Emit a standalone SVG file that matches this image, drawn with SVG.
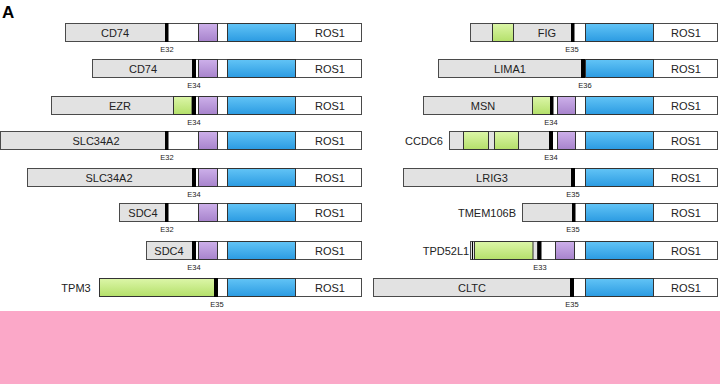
<svg xmlns="http://www.w3.org/2000/svg" width="720" height="384" viewBox="0 0 720 384">
<defs>
<linearGradient id="gb" x1="0" y1="0" x2="0" y2="1"><stop offset="0" stop-color="#62c4f6"/><stop offset="1" stop-color="#2b9be2"/></linearGradient>
<linearGradient id="gg" x1="0" y1="0" x2="0" y2="1"><stop offset="0" stop-color="#dcf6a8"/><stop offset="1" stop-color="#b4e06a"/></linearGradient>
<linearGradient id="gp" x1="0" y1="0" x2="0" y2="1"><stop offset="0" stop-color="#cdb0ea"/><stop offset="1" stop-color="#a783cc"/></linearGradient>
</defs>
<style>
.bar{fill:#ffffff;stroke:#4a4a4a;stroke-width:1}
.gr{fill:#e2e2e2;stroke:#4a4a4a;stroke-width:1}
.bl{fill:url(#gb);stroke:#333;stroke-width:1}
.gn{fill:url(#gg);stroke:#333;stroke-width:1}
.pu{fill:url(#gp);stroke:#333;stroke-width:1}
.bk{fill:#000}
text{font-family:"Liberation Sans",Arial,sans-serif;fill:#222}
.t{font-size:11px;text-anchor:middle}
.e{font-size:7.5px;text-anchor:middle}
</style>
<rect x="0" y="0" width="720" height="384" fill="#ffffff"/>
<rect x="0" y="311" width="720" height="73" fill="#fba8c8"/>
<text x="2" y="18" style="font-size:17px;font-weight:bold;fill:#000">A</text>

<g id="r1-CD74-E32">
<rect class="bar" x="65.5" y="23.5" width="296" height="18"/>
<rect class="gr" x="65.5" y="23.5" width="100" height="18"/>
<rect class="pu" x="198.5" y="23.5" width="19" height="18"/>
<rect class="bl" x="227.5" y="23.5" width="68" height="18"/>
<rect class="bk" x="165" y="23" width="3.5" height="19"/>
<text class="t" x="115" y="36.5">CD74</text>
<text class="t" x="330" y="36.5">ROS1</text>
<text class="e" x="167" y="52">E32</text>
</g>

<g id="r2-CD74-E34">
<rect class="bar" x="92.5" y="59.5" width="269" height="18"/>
<rect class="gr" x="92.5" y="59.5" width="100" height="18"/>
<rect class="pu" x="198.5" y="59.5" width="19" height="18"/>
<rect class="bl" x="227.5" y="59.5" width="68" height="18"/>
<rect class="bk" x="192" y="59" width="4" height="19"/>
<text class="t" x="143" y="72.5">CD74</text>
<text class="t" x="330" y="72.5">ROS1</text>
<text class="e" x="194" y="88">E34</text>
</g>

<g id="r3-EZR-E34">
<rect class="bar" x="51.5" y="96.5" width="310" height="18"/>
<rect class="gr" x="51.5" y="96.5" width="141" height="18"/>
<rect class="gn" x="173.5" y="96.5" width="18.5" height="18"/>
<rect class="pu" x="198.5" y="96.5" width="19" height="18"/>
<rect class="bl" x="227.5" y="96.5" width="68" height="18"/>
<rect class="bk" x="192" y="96" width="4" height="19"/>
<text class="t" x="120" y="109.5">EZR</text>
<text class="t" x="330" y="109.5">ROS1</text>
<text class="e" x="194" y="125">E34</text>
</g>

<g id="r4-SLC34A2-E32">
<rect class="bar" x="0.5" y="131.5" width="361" height="18"/>
<rect class="gr" x="0.5" y="131.5" width="165" height="18"/>
<rect class="pu" x="198.5" y="131.5" width="19" height="18"/>
<rect class="bl" x="227.5" y="131.5" width="68" height="18"/>
<rect class="bk" x="165" y="131" width="3.5" height="19"/>
<text class="t" x="96" y="144.5">SLC34A2</text>
<text class="t" x="330" y="144.5">ROS1</text>
<text class="e" x="167" y="160">E32</text>
</g>

<g id="r5-SLC34A2-E34">
<rect class="bar" x="27.5" y="168.5" width="334" height="18"/>
<rect class="gr" x="27.5" y="168.5" width="165" height="18"/>
<rect class="pu" x="198.5" y="168.5" width="19" height="18"/>
<rect class="bl" x="227.5" y="168.5" width="68" height="18"/>
<rect class="bk" x="192" y="168" width="4" height="19"/>
<text class="t" x="109" y="181.5">SLC34A2</text>
<text class="t" x="330" y="181.5">ROS1</text>
<text class="e" x="194" y="197">E34</text>
</g>

<g id="r6-SDC4-E32">
<rect class="bar" x="119.5" y="203.5" width="242" height="18"/>
<rect class="gr" x="119.5" y="203.5" width="46" height="18"/>
<rect class="pu" x="198.5" y="203.5" width="19" height="18"/>
<rect class="bl" x="227.5" y="203.5" width="68" height="18"/>
<rect class="bk" x="165" y="203" width="3.5" height="19"/>
<text class="t" x="143" y="216.5">SDC4</text>
<text class="t" x="330" y="216.5">ROS1</text>
<text class="e" x="167" y="232">E32</text>
</g>

<g id="r7-SDC4-E34">
<rect class="bar" x="146.5" y="241.5" width="215" height="18"/>
<rect class="gr" x="146.5" y="241.5" width="46" height="18"/>
<rect class="pu" x="198.5" y="241.5" width="19" height="18"/>
<rect class="bl" x="227.5" y="241.5" width="68" height="18"/>
<rect class="bk" x="192" y="241" width="4" height="19"/>
<text class="t" x="169" y="254.5">SDC4</text>
<text class="t" x="330" y="254.5">ROS1</text>
<text class="e" x="194" y="270">E34</text>
</g>

<g id="r8-TPM3-E35">
<rect class="bar" x="99.5" y="278.5" width="262" height="18"/>
<rect class="gn" x="99.5" y="278.5" width="115" height="18"/>
<rect class="bl" x="227.5" y="278.5" width="68" height="18"/>
<rect class="bk" x="214" y="278" width="4" height="19"/>
<text class="t" x="76" y="291.5">TPM3</text>
<text class="t" x="330" y="291.5">ROS1</text>
<text class="e" x="217" y="307">E35</text>
</g>

<g id="r9-FIG-E35">
<rect class="bar" x="470.5" y="23.5" width="247" height="18"/>
<rect class="gr" x="470.5" y="23.5" width="101" height="18"/>
<rect class="gn" x="492.5" y="23.5" width="21" height="18"/>
<rect class="bl" x="585.5" y="23.5" width="68" height="18"/>
<rect class="bk" x="571" y="23" width="3.5" height="19"/>
<text class="t" x="547" y="36.5">FIG</text>
<text class="t" x="686" y="36.5">ROS1</text>
<text class="e" x="572" y="52">E35</text>
</g>

<g id="r10-LIMA1-E36">
<rect class="bar" x="438.5" y="59.5" width="279" height="18"/>
<rect class="gr" x="438.5" y="59.5" width="143" height="18"/>
<rect class="bl" x="585.5" y="59.5" width="68" height="18"/>
<rect class="bk" x="581" y="59" width="4" height="19"/>
<text class="t" x="510" y="72.5">LIMA1</text>
<text class="t" x="686" y="72.5">ROS1</text>
<text class="e" x="585" y="88">E36</text>
</g>

<g id="r11-MSN-E34">
<rect class="bar" x="423.5" y="96.5" width="294" height="18"/>
<rect class="gr" x="423.5" y="96.5" width="127" height="18"/>
<rect class="gn" x="532.5" y="96.5" width="18" height="18"/>
<rect class="pu" x="557.5" y="96.5" width="18" height="18"/>
<rect class="bl" x="585.5" y="96.5" width="68" height="18"/>
<rect class="bk" x="550" y="96" width="3.5" height="19"/>
<text class="t" x="483" y="109.5">MSN</text>
<text class="t" x="686" y="109.5">ROS1</text>
<text class="e" x="551" y="125">E34</text>
</g>

<g id="r12-CCDC6-E34">
<rect class="bar" x="449.5" y="131.5" width="268" height="18"/>
<rect class="gr" x="449.5" y="131.5" width="100" height="18"/>
<rect class="gn" x="463.5" y="131.5" width="25" height="18"/>
<rect class="gn" x="494.5" y="131.5" width="24" height="18"/>
<rect class="pu" x="557.5" y="131.5" width="18" height="18"/>
<rect class="bl" x="585.5" y="131.5" width="68" height="18"/>
<rect class="bk" x="549" y="131" width="4" height="19"/>
<text class="t" x="424" y="144.5">CCDC6</text>
<text class="t" x="686" y="144.5">ROS1</text>
<text class="e" x="551" y="160">E34</text>
</g>

<g id="r13-LRIG3-E35">
<rect class="bar" x="403.5" y="168.5" width="314" height="18"/>
<rect class="gr" x="403.5" y="168.5" width="168" height="18"/>
<rect class="bl" x="585.5" y="168.5" width="68" height="18"/>
<rect class="bk" x="571" y="168" width="4" height="19"/>
<text class="t" x="492" y="181.5">LRIG3</text>
<text class="t" x="686" y="181.5">ROS1</text>
<text class="e" x="573" y="197">E35</text>
</g>

<g id="r14-TMEM106B-E35">
<rect class="bar" x="522.5" y="203.5" width="195" height="18"/>
<rect class="gr" x="522.5" y="203.5" width="50" height="18"/>
<rect class="bl" x="585.5" y="203.5" width="68" height="18"/>
<rect class="bk" x="572" y="203" width="3.5" height="19"/>
<text class="t" x="487" y="216.5">TMEM106B</text>
<text class="t" x="686" y="216.5">ROS1</text>
<text class="e" x="573" y="232">E35</text>
</g>

<g id="r15-TPD52L1-E33">
<rect class="bar" x="470.5" y="241.5" width="247" height="18"/>
<rect class="gr" x="470.5" y="241.5" width="67" height="18"/>
<rect class="gn" x="474.5" y="241.5" width="58.5" height="18"/>
<rect class="bk" x="472" y="241.5" width="1" height="18"/>
<rect class="pu" x="555.5" y="241.5" width="19" height="18"/>
<rect class="bl" x="585.5" y="241.5" width="68" height="18"/>
<rect class="bk" x="537.5" y="241" width="4" height="19"/>
<text class="t" x="446" y="254.5">TPD52L1</text>
<text class="t" x="686" y="254.5">ROS1</text>
<text class="e" x="540" y="270">E33</text>
</g>

<g id="r16-CLTC-E35">
<rect class="bar" x="373.5" y="278.5" width="344" height="18"/>
<rect class="gr" x="373.5" y="278.5" width="197" height="18"/>
<rect class="bl" x="585.5" y="278.5" width="68" height="18"/>
<rect class="bk" x="570" y="278" width="4" height="19"/>
<text class="t" x="472" y="291.5">CLTC</text>
<text class="t" x="686" y="291.5">ROS1</text>
<text class="e" x="572" y="307">E35</text>
</g>
</svg>
